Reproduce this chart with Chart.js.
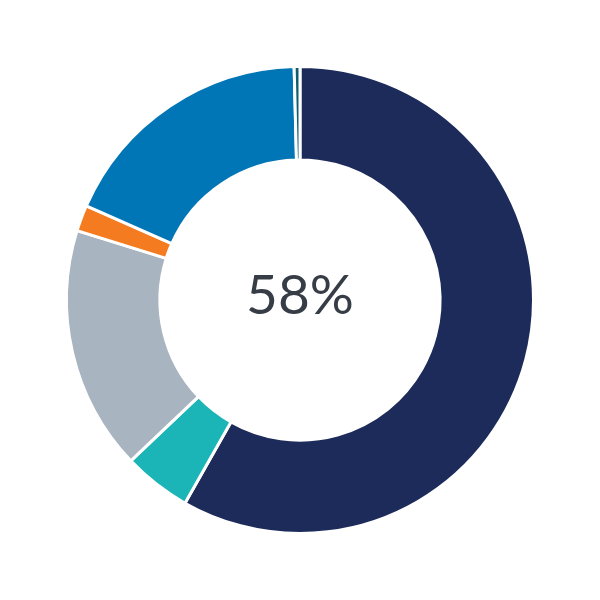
<!DOCTYPE html>
<html>
<head>
<meta charset="utf-8">
<script src="https://cdn.jsdelivr.net/npm/chart.js@4/dist/chart.umd.min.js"></script>
<style>
  body { margin: 0; background: #fff; }
  #wrap { position: relative; width: 600px; height: 600px; }
  #centerLabel {
    position: absolute; left: 0; top: 0; width: 600px; height: 600px;
    display: flex; align-items: center; justify-content: center;
    font-family: Lato, "Open Sans", sans-serif; font-weight: 400;
    font-size: 55px; color: #373d46; pointer-events: none;
    padding-bottom: 14px; box-sizing: border-box;
  }
</style>
</head>
<body>
<div id="wrap">
  <canvas id="donut"></canvas>
  <div id="centerLabel">58%</div>
</div>
<script>
// slices, clockwise from 12 o'clock
var categories = ["A", "B", "C", "D", "E", "F"];
var shares = [58.2, 4.7, 16.9, 1.8, 18.0, 0.4];
var colors = ["#1c2b5a", "#1bb5b8", "#a9b4c1", "#f47b20", "#0076b6", "#0e5e6f"];

var ctx = document.getElementById('donut');
var donut = new Chart(ctx, {
    type: 'doughnut',
    data: {
        labels: categories,
        datasets: [{
            data: shares,
            backgroundColor: colors,
            borderColor: "#ffffff",
            borderWidth: 3
        }]
    },
    options: {
        responsive: true,
        maintainAspectRatio: false,
        animation: false,
        cutout: '60%',
        layout: { padding: 65 },
        plugins: {
            legend: { display: false },
            tooltip: { enabled: false }
        }
    }
});
</script>
</body>
</html>
